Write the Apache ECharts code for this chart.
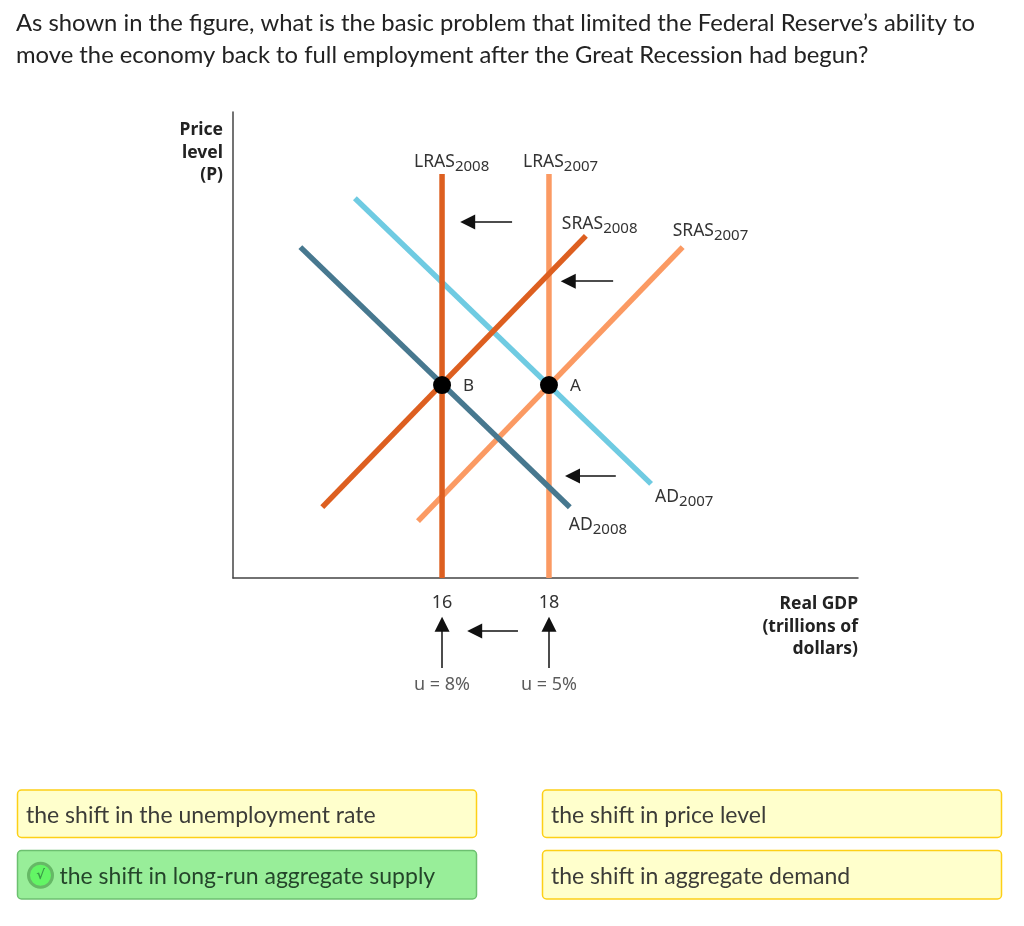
<!DOCTYPE html>
<html>
<head>
<meta charset="utf-8">
<style>
  html, body { margin: 0; padding: 0; background: #fff; }
  #main { width: 1024px; height: 926px; }
</style>
<script src="https://cdn.jsdelivr.net/npm/echarts@6/dist/echarts.min.js"></script>
</head>
<body>
<div id="main"></div>
<script>
// x is real GDP in trillions, y is an unscaled price index (the figure has no price ticks)
var gdpTicks = [16, 18];
var lras2008X = [16, 16];
var lras2008Y = [0, 86.7];
var lras2007X = [18, 18];
var lras2007Y = [0, 86.7];
var sras2008X = [13.76, 18.69];
var sras2008Y = [15.2, 73.4];
var sras2007X = [15.55, 20.5];
var sras2007Y = [12.2, 71.0];
var ad2007X = [14.37, 19.91];
var ad2007Y = [81.5, 20.2];
var ad2008X = [13.35, 18.39];
var ad2008Y = [71.0, 15.2];
var equilibriumNames = ['B', 'A'];
var equilibriumX = [16, 18];
var equilibriumY = [41.4, 41.4];
var unemploymentLabels = ['u = 8%', 'u = 5%'];
var shiftArrows = [
  [[17.31, 76.4], [16.48, 76.4]],
  [[19.2, 63.7], [18.36, 63.7]],
  [[19.25, 21.9], [18.44, 21.9]],
  [[17.42, -11.4], [16.61, -11.4]],
  [[16, -19.3], [16, -9.9]],
  [[18, -19.3], [18, -9.9]]
];
var question = 'As shown in the figure, what is the basic problem that limited the Federal Reserve\u2019s ability to\nmove the economy back to full employment after the Great Recession had begun?';
var answers = ['the shift in the unemployment rate', 'the shift in price level', 'the shift in long-run aggregate supply', 'the shift in aggregate demand'];

var LABEL_FONT = 'Noto Sans';
var UI_FONT = 'Lato';
var DARK_ORANGE = '#dd5f20';
var LIGHT_ORANGE = '#fb9a63';
var LIGHT_BLUE = '#6fcbe2';
var DARK_BLUE = '#47788f';

function zip(xs, ys) {
  return xs.map(function (x, i) { return [x, ys[i]]; });
}

function curve(name, xs, ys, color, offset) {
  return {
    name: name,
    type: 'line',
    data: zip(xs, ys),
    showSymbol: false,
    symbol: 'none',
    silent: true,
    lineStyle: { color: color, width: 5.5, cap: 'butt' },
    endLabel: {
      show: true,
      position: 'right',
      distance: 0,
      offset: offset,
      align: 'left',
      verticalAlign: 'middle',
      color: '#333',
      formatter: function () {
        return name.slice(0, -4) + '{sub|' + name.slice(-4) + '}';
      },
      fontFamily: LABEL_FONT,
      fontSize: 17.5,
      rich: {
        sub: { fontFamily: LABEL_FONT, fontSize: 15, color: '#333', padding: [10, 0, 0, 0] }
      }
    }
  };
}

function answerBox(x, y, w, h, text, correct) {
  var out = [{
    type: 'rect',
    shape: { x: x, y: y, width: w, height: h, r: 4 },
    style: {
      fill: correct ? '#98ee99' : '#ffffcc',
      stroke: correct ? '#6cc070' : '#fdd017',
      lineWidth: 1.5
    }
  }, {
    type: 'text',
    x: correct ? x + 42 : x + 8.5,
    y: y + h / 2 + 1.5,
    style: {
      text: text,
      fill: correct ? '#24452a' : '#3c3c38',
      font: '23px "' + UI_FONT + '"',
      textVerticalAlign: 'middle'
    }
  }];
  if (correct) {
    out.push({
      type: 'circle',
      shape: { cx: x + 23, cy: y + h / 2 + 0.5, r: 12 },
      style: { fill: '#63f565', stroke: '#66b866', lineWidth: 3 }
    }, {
      type: 'text',
      x: x + 23,
      y: y + h / 2 + 0.5,
      style: {
        text: '\u221a',
        fill: '#3b9a48',
        font: 'bold 13px "DejaVu Sans"',
        textAlign: 'center',
        textVerticalAlign: 'middle'
      }
    });
  }
  return out;
}

var chart = echarts.init(document.getElementById('main'), null, { renderer: 'canvas' });

var option = {
  animation: false,
  backgroundColor: '#fff',
  grid: { left: 233, top: 112, width: 625, height: 466, containLabel: false },
  xAxis: {
    type: 'value',
    min: 12.09,
    max: 23.78,
    splitLine: { show: false },
    axisTick: { show: false },
    axisLine: { onZero: false, lineStyle: { color: '#444', width: 1.5 } },
    axisLabel: {
      customValues: gdpTicks,
      margin: 16,
      color: '#333',
      fontFamily: LABEL_FONT,
      fontSize: 18
    },
    name: 'Real GDP\n(trillions of\ndollars)',
    nameLocation: 'end',
    nameGap: 0,
    nameTextStyle: {
      align: 'right',
      verticalAlign: 'top',
      padding: [15, 0, 0, 0],
      color: '#222',
      fontFamily: LABEL_FONT,
      fontWeight: 'bold',
      fontSize: 17.5,
      lineHeight: 22.5
    }
  },
  yAxis: {
    type: 'value',
    min: 0,
    max: 100,
    splitLine: { show: false },
    axisTick: { show: false },
    axisLabel: { show: false },
    axisLine: { show: true, lineStyle: { color: '#444', width: 1.5 } },
    name: 'Price\nlevel\n(P)',
    nameLocation: 'end',
    nameGap: 0,
    nameTextStyle: {
      align: 'right',
      verticalAlign: 'top',
      padding: [7, 10, 0, 0],
      color: '#222',
      fontFamily: LABEL_FONT,
      fontWeight: 'bold',
      fontSize: 17.5,
      lineHeight: 22.5
    }
  },
  series: [
    curve('LRAS2007', lras2007X, lras2007Y, LIGHT_ORANGE, [-26, -12]),
    curve('SRAS2007', sras2007X, sras2007Y, LIGHT_ORANGE, [-10, -16]),
    curve('AD2007', ad2007X, ad2007Y, LIGHT_BLUE, [4, 13]),
    curve('AD2008', ad2008X, ad2008Y, DARK_BLUE, [-1, 18]),
    curve('SRAS2008', sras2008X, sras2008Y, DARK_ORANGE, [-24, -12]),
    curve('LRAS2008', lras2008X, lras2008Y, DARK_ORANGE, [-28, -12]),
    {
      name: 'equilibrium',
      type: 'scatter',
      symbol: 'circle',
      symbolSize: 18,
      itemStyle: { color: '#000', opacity: 1 },
      z: 5,
      data: zip(equilibriumX, equilibriumY).map(function (p, i) {
        return { value: p, name: equilibriumNames[i] };
      }),
      label: {
        show: true,
        position: 'right',
        distance: 12,
        offset: [0, 1],
        formatter: '{b}',
        color: '#333',
        fontFamily: LABEL_FONT,
        fontSize: 17
      }
    },
    {
      name: 'shifts',
      type: 'lines',
      coordinateSystem: 'cartesian2d',
      clip: false,
      symbol: ['none', 'triangle'],
      symbolSize: 15,
      lineStyle: { color: '#111', width: 1.5, opacity: 1, curveness: 0 },
      z: 4,
      data: shiftArrows.map(function (a) { return { coords: a }; })
    },
    {
      name: 'unemployment',
      type: 'scatter',
      clip: false,
      symbolSize: 0,
      silent: true,
      data: equilibriumX.map(function (x, i) {
        return { value: [x, -22.9], name: unemploymentLabels[i] };
      }),
      label: {
        show: true,
        position: 'inside',
        formatter: '{b}',
        color: '#333',
        fontFamily: LABEL_FONT,
        fontSize: 18
      }
    }
  ],
  graphic: [{
    type: 'text',
    x: 16,
    y: 7.5,
    style: {
      text: question,
      fill: '#222',
      font: '23.8px "' + UI_FONT + '"',
      lineHeight: 32
    }
  }].concat(
    answerBox(17.5, 790, 459, 47.5, answers[0], false),
    answerBox(542.5, 790, 459, 47.5, answers[1], false),
    answerBox(17.5, 850.5, 459, 48.5, answers[2], true),
    answerBox(542.5, 850.5, 459, 48.5, answers[3], false)
  )
};

chart.setOption(option);
</script>
</body>
</html>
